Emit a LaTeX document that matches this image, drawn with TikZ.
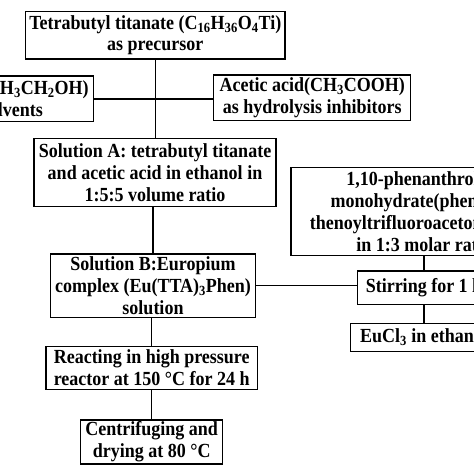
\documentclass[tikz,border=0pt]{standalone}
\usepackage{fontspec}
\setmainfont{Liberation Serif}[FakeStretch=0.9]
\begin{document}
\begin{tikzpicture}[x=1pt,y=-1pt,
  box/.style={draw,line width=1.4pt,align=center,inner sep=0pt,
    font=\fontsize{20}{21.7}\selectfont\bfseries},
  link/.style={line width=1.4pt}]
\useasboundingbox (0,0) rectangle (474,474);
\clip (0,0) rectangle (474,474);
\node[box,minimum width=259.3pt,minimum height=47.3pt] (prec) at (155.3,35.3)
  {Tetrabutyl titanate (C\textsubscript{16}H\textsubscript{36}O\textsubscript{4}Ti)\\as precursor};
\node[box,inner xsep=5pt,minimum height=45.7pt,anchor=east] (eth) at (94.3,98.8)
  {Ethanol (CH\textsubscript{3}CH\textsubscript{2}OH)\\as solvents};
\node[box,minimum width=197pt,minimum height=45.7pt] (acet) at (312.2,97.8)
  {Acetic acid(CH\textsubscript{3}COOH)\\as hydrolysis inhibitors};
\node[box,minimum width=242pt,minimum height=68.4pt] (solA) at (155,172.5)
  {Solution A: tetrabutyl titanate\\and acetic acid in ethanol in\\1:5:5 volume ratio};
\node[box,minimum width=266pt,minimum height=88pt] (phen) at (424,211.7)
  {1,10-phenanthroline\\monohydrate(phen) and\\thenoyltrifluoroacetone(TTA)\\in 1:3 molar ratio};
\node[box,minimum width=204.6pt,minimum height=63.3pt] (solB) at (153,285.7)
  {Solution B:Europium\\complex (Eu(TTA)\textsubscript{3}Phen)\\solution};
\node[box,minimum width=133.4pt,minimum height=33.3pt] (stir) at (424,287.7)
  {Stirring for 1 h};
\node[box,minimum width=146.6pt,minimum height=28.4pt] (eucl) at (424,337.5)
  {EuCl\textsubscript{3} in ethanol};
\node[box,minimum width=211.3pt,minimum height=42.6pt] (react) at (151.7,368)
  {Reacting in high pressure\\reactor at 150 °C for 24 h};
\node[box,minimum width=142pt,minimum height=44pt] (cent) at (151.7,442)
  {Centrifuging and\\drying at 80 °C};
\draw[link] (prec.south) -- (prec.south |- solA.north);
\draw[link] (eth.east) -- (eth.east -| acet.west);
\draw[link] (solB.north) -- (solB.north |- solA.south);
\draw[link] (solB.east) -- (solB.east -| stir.west);
\draw[link] (phen.south) -- (stir.north);
\draw[link] (stir.south) -- (eucl.north);
\draw[link] (react.north |- solB.south) -- (react.north);
\draw[link] (react.south) -- (cent.north);
\end{tikzpicture}
\end{document}
